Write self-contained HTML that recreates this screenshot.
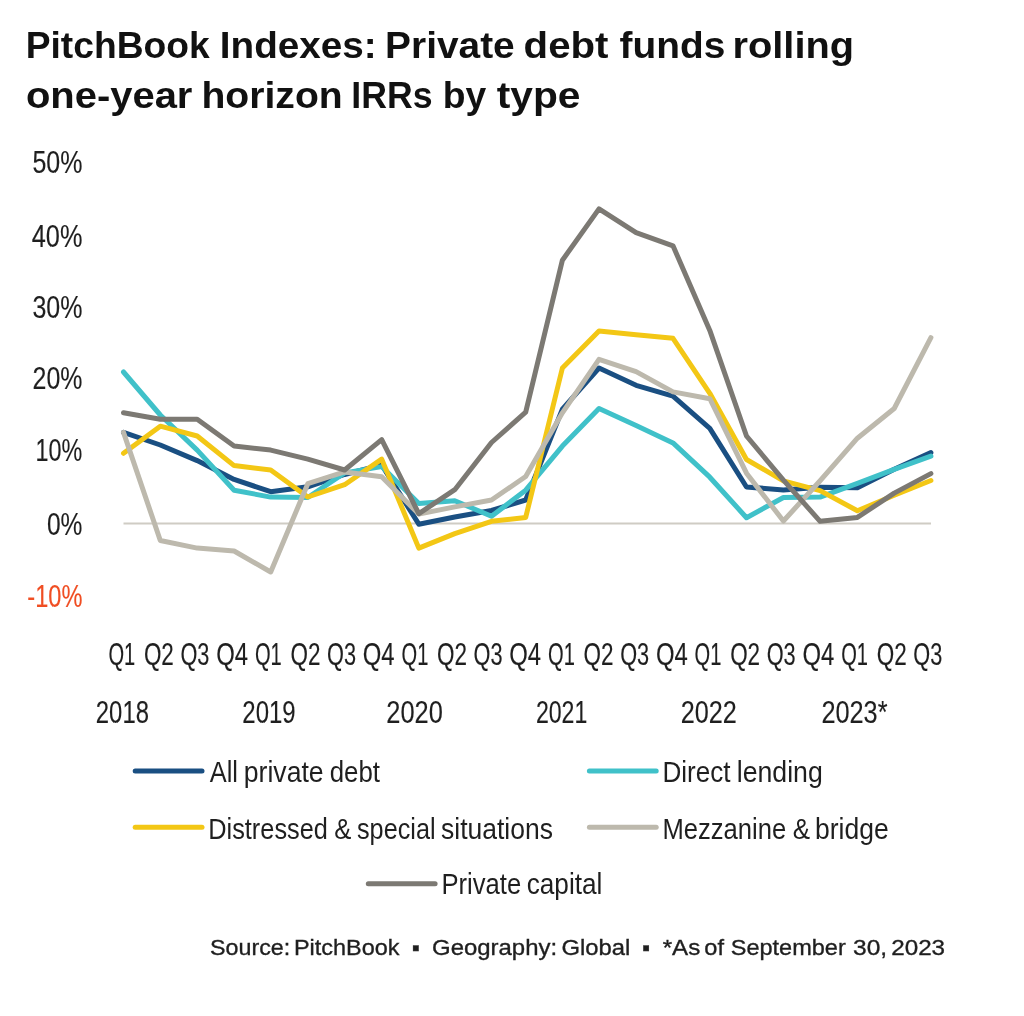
<!DOCTYPE html>
<html lang="en">
<head>
<meta charset="utf-8">
<title>PitchBook Indexes: Private debt funds rolling one-year horizon IRRs by type</title>
<style>
html,body{margin:0;padding:0;background:#fff;}
body{width:1024px;height:1016px;overflow:hidden;}
svg{display:block;will-change:transform;}
text{font-family:"Liberation Sans", Arial, Helvetica, sans-serif;fill:#1f1f1f;}
.t{font-weight:bold;font-size:37.5px;fill:#111;}
.a{font-size:31px;stroke:#1f1f1f;stroke-width:0.15;}
.l{font-size:30px;}
.f{font-size:22.3px;fill:#1f1f1f;stroke:#1f1f1f;stroke-width:0.35;}
.ln{fill:none;stroke-linecap:round;stroke-linejoin:round;stroke-width:5;}
</style>
</head>
<body>
<svg width="1024" height="1016" viewBox="0 0 1024 1016">
<rect width="1024" height="1016" fill="#ffffff"/>
<!-- title -->
<text class="t"><tspan x="25.72" y="57.5" textLength="183.97" lengthAdjust="spacingAndGlyphs">PitchBook</tspan> <tspan x="219.82" y="57.5" textLength="156.95" lengthAdjust="spacingAndGlyphs">Indexes:</tspan> <tspan x="385.11" y="57.5" textLength="129.58" lengthAdjust="spacingAndGlyphs">Private</tspan> <tspan x="523.59" y="57.5" textLength="84.86" lengthAdjust="spacingAndGlyphs">debt</tspan> <tspan x="619.52" y="57.5" textLength="105.81" lengthAdjust="spacingAndGlyphs">funds</tspan> <tspan x="732.55" y="57.5" textLength="121.48" lengthAdjust="spacingAndGlyphs">rolling</tspan></text>
<text class="t"><tspan x="25.90" y="107.5" textLength="166.51" lengthAdjust="spacingAndGlyphs">one-year</tspan> <tspan x="201.49" y="107.5" textLength="141.20" lengthAdjust="spacingAndGlyphs">horizon</tspan> <tspan x="351.32" y="107.5" textLength="81.28" lengthAdjust="spacingAndGlyphs">IRRs</tspan> <tspan x="442.72" y="107.5" textLength="43.45" lengthAdjust="spacingAndGlyphs">by</tspan> <tspan x="496.76" y="107.5" textLength="83.72" lengthAdjust="spacingAndGlyphs">type</tspan></text>
<!-- y axis -->
<text class="a" x="32.39" y="172.9" textLength="50.05" lengthAdjust="spacingAndGlyphs">50%</text>
<text class="a" x="31.79" y="247.2" textLength="50.67" lengthAdjust="spacingAndGlyphs">40%</text>
<text class="a" x="32.39" y="317.5" textLength="50.05" lengthAdjust="spacingAndGlyphs">30%</text>
<text class="a" x="32.59" y="389.3" textLength="49.85" lengthAdjust="spacingAndGlyphs">20%</text>
<text class="a" x="35.60" y="460.9" textLength="46.79" lengthAdjust="spacingAndGlyphs">10%</text>
<text class="a" x="46.91" y="535.0" textLength="35.53" lengthAdjust="spacingAndGlyphs">0%</text>
<text class="a" x="27.36" y="606.8" textLength="55.10" lengthAdjust="spacingAndGlyphs" style="fill:#f04e23;stroke:#f04e23">-10%</text>
<line x1="123.5" y1="523.5" x2="931" y2="523.5" stroke="#cfccc4" stroke-width="2"/>
<!-- series -->
<path class="ln" stroke="#1a4f82" d="M123.5,432.4 L160.3,445.0 L197.2,460.6 L234.1,479.4 L270.7,491.7 L307.8,486.8 L344.6,474.5 L381.7,464.9 L418.8,524.2 L454.8,517.0 L491.5,510.5 L525.7,500.0 L562.4,409.2 L599.0,368.0 L636.1,385.3 L673.0,396.2 L709.8,428.4 L746.5,487.0 L783.4,489.9 L820.1,487.3 L857.4,487.7 L894.2,469.3 L930.9,452.6"/>
<path class="ln" stroke="#40c1c9" d="M123.5,372.0 L160.3,415.0 L197.2,450.1 L234.1,490.2 L270.7,497.1 L307.8,497.5 L344.6,472.9 L381.7,466.6 L418.8,503.5 L454.8,500.7 L491.5,516.3 L525.7,490.2 L562.4,446.1 L599.0,408.5 L636.1,425.5 L673.0,442.9 L709.8,477.2 L746.5,517.7 L783.4,497.5 L820.1,497.1 L857.4,483.4 L894.2,469.3 L930.9,456.2"/>
<path class="ln" stroke="#f3c715" d="M123.5,453.3 L160.3,426.2 L197.2,436.0 L234.1,465.6 L270.7,470.0 L307.8,497.0 L344.6,484.7 L381.7,459.1 L418.8,548.1 L454.8,533.6 L491.5,521.3 L525.7,517.4 L562.4,368.0 L599.0,331.1 L636.1,334.7 L673.0,338.3 L709.8,393.3 L746.5,459.5 L783.4,480.8 L820.1,490.6 L857.4,510.8 L894.2,495.3 L930.9,480.5"/>
<path class="ln" stroke="#bdb9ad" d="M123.5,432.4 L160.3,540.5 L197.2,548.1 L234.1,551.0 L270.7,572.0 L307.8,483.7 L344.6,471.9 L381.7,476.8 L418.8,514.1 L454.8,506.9 L491.5,500.0 L525.7,476.5 L562.4,412.8 L599.0,359.3 L636.1,371.6 L673.0,391.9 L709.8,398.7 L746.5,473.2 L783.4,521.0 L820.1,480.8 L857.4,438.2 L894.2,408.5 L930.9,337.6"/>
<path class="ln" stroke="#7c7973" d="M123.5,412.8 L160.3,419.3 L197.2,419.3 L234.1,446.1 L270.7,450.1 L307.8,459.1 L344.6,470.0 L381.7,439.6 L418.8,513.7 L454.8,489.7 L491.5,442.5 L525.7,412.1 L562.4,260.2 L599.0,208.9 L636.1,232.7 L673.0,245.8 L709.8,330.4 L746.5,436.0 L783.4,480.1 L820.1,521.3 L857.4,517.4 L894.2,493.1 L930.9,473.6"/>
<!-- x axis -->
<text class="a" x="108.38" y="664.6" textLength="26.82" lengthAdjust="spacingAndGlyphs">Q1</text>
<text class="a" x="143.91" y="664.6" textLength="29.95" lengthAdjust="spacingAndGlyphs">Q2</text>
<text class="a" x="180.45" y="664.6" textLength="29.01" lengthAdjust="spacingAndGlyphs">Q3</text>
<text class="a" x="216.20" y="664.6" textLength="31.81" lengthAdjust="spacingAndGlyphs">Q4</text>
<text class="a" x="254.94" y="664.6" textLength="26.82" lengthAdjust="spacingAndGlyphs">Q1</text>
<text class="a" x="290.47" y="664.6" textLength="29.95" lengthAdjust="spacingAndGlyphs">Q2</text>
<text class="a" x="327.01" y="664.6" textLength="29.01" lengthAdjust="spacingAndGlyphs">Q3</text>
<text class="a" x="362.76" y="664.6" textLength="31.81" lengthAdjust="spacingAndGlyphs">Q4</text>
<text class="a" x="401.50" y="664.6" textLength="26.82" lengthAdjust="spacingAndGlyphs">Q1</text>
<text class="a" x="437.03" y="664.6" textLength="29.95" lengthAdjust="spacingAndGlyphs">Q2</text>
<text class="a" x="473.57" y="664.6" textLength="29.01" lengthAdjust="spacingAndGlyphs">Q3</text>
<text class="a" x="509.32" y="664.6" textLength="31.81" lengthAdjust="spacingAndGlyphs">Q4</text>
<text class="a" x="548.06" y="664.6" textLength="26.82" lengthAdjust="spacingAndGlyphs">Q1</text>
<text class="a" x="583.59" y="664.6" textLength="29.95" lengthAdjust="spacingAndGlyphs">Q2</text>
<text class="a" x="620.13" y="664.6" textLength="29.01" lengthAdjust="spacingAndGlyphs">Q3</text>
<text class="a" x="655.88" y="664.6" textLength="31.81" lengthAdjust="spacingAndGlyphs">Q4</text>
<text class="a" x="694.62" y="664.6" textLength="26.82" lengthAdjust="spacingAndGlyphs">Q1</text>
<text class="a" x="730.15" y="664.6" textLength="29.95" lengthAdjust="spacingAndGlyphs">Q2</text>
<text class="a" x="766.69" y="664.6" textLength="29.01" lengthAdjust="spacingAndGlyphs">Q3</text>
<text class="a" x="802.44" y="664.6" textLength="31.81" lengthAdjust="spacingAndGlyphs">Q4</text>
<text class="a" x="841.18" y="664.6" textLength="26.82" lengthAdjust="spacingAndGlyphs">Q1</text>
<text class="a" x="876.71" y="664.6" textLength="29.95" lengthAdjust="spacingAndGlyphs">Q2</text>
<text class="a" x="913.25" y="664.6" textLength="29.01" lengthAdjust="spacingAndGlyphs">Q3</text>
<text class="a" x="95.85" y="723.2" textLength="53.09" lengthAdjust="spacingAndGlyphs">2018</text>
<text class="a" x="242.34" y="723.2" textLength="53.29" lengthAdjust="spacingAndGlyphs">2019</text>
<text class="a" x="386.37" y="723.2" textLength="56.42" lengthAdjust="spacingAndGlyphs">2020</text>
<text class="a" x="535.88" y="723.2" textLength="51.41" lengthAdjust="spacingAndGlyphs">2021</text>
<text class="a" x="680.78" y="723.2" textLength="56.01" lengthAdjust="spacingAndGlyphs">2022</text>
<text class="a" x="821.38" y="723.2" textLength="66.16" lengthAdjust="spacingAndGlyphs">2023*</text>
<!-- legend -->
<line class="ln" x1="135.2" y1="771" x2="202.0" y2="771" stroke="#1a4f82"/>
<line class="ln" x1="589.4" y1="771" x2="656.2" y2="771" stroke="#40c1c9"/>
<line class="ln" x1="135.2" y1="827.3" x2="202.0" y2="827.3" stroke="#f3c715"/>
<line class="ln" x1="589.4" y1="827.3" x2="656.2" y2="827.3" stroke="#bdb9ad"/>
<line class="ln" x1="368.3" y1="883.8" x2="435.1" y2="883.8" stroke="#7c7973"/>
<text class="l"><tspan x="209.70" y="782.1" textLength="28.28" lengthAdjust="spacingAndGlyphs">All</tspan> <tspan x="243.72" y="782.1" textLength="79.93" lengthAdjust="spacingAndGlyphs">private</tspan> <tspan x="329.72" y="782.1" textLength="50.30" lengthAdjust="spacingAndGlyphs">debt</tspan></text>
<text class="l"><tspan x="662.43" y="782.1" textLength="68.07" lengthAdjust="spacingAndGlyphs">Direct</tspan> <tspan x="736.72" y="782.1" textLength="86.07" lengthAdjust="spacingAndGlyphs">lending</tspan></text>
<text class="l"><tspan x="208.29" y="839.0" textLength="119.57" lengthAdjust="spacingAndGlyphs">Distressed</tspan> <tspan x="334.25" y="839.0" textLength="17.09" lengthAdjust="spacingAndGlyphs">&amp;</tspan> <tspan x="356.96" y="839.0" textLength="78.63" lengthAdjust="spacingAndGlyphs">special</tspan> <tspan x="441.02" y="839.0" textLength="111.97" lengthAdjust="spacingAndGlyphs">situations</tspan></text>
<text class="l"><tspan x="662.47" y="839.0" textLength="123.77" lengthAdjust="spacingAndGlyphs">Mezzanine</tspan> <tspan x="792.84" y="839.0" textLength="17.31" lengthAdjust="spacingAndGlyphs">&amp;</tspan> <tspan x="814.93" y="839.0" textLength="73.71" lengthAdjust="spacingAndGlyphs">bridge</tspan></text>
<text class="l"><tspan x="441.47" y="894.2" textLength="79.71" lengthAdjust="spacingAndGlyphs">Private</tspan> <tspan x="526.71" y="894.2" textLength="75.71" lengthAdjust="spacingAndGlyphs">capital</tspan></text>
<!-- footer -->
<text class="f"><tspan x="210.06" y="955.0" textLength="80.13" lengthAdjust="spacingAndGlyphs">Source:</tspan> <tspan x="293.96" y="955.0" textLength="105.49" lengthAdjust="spacingAndGlyphs">PitchBook</tspan> <tspan x="412.00" y="954.6">▪</tspan> <tspan x="432.06" y="955.0" textLength="125.00" lengthAdjust="spacingAndGlyphs">Geography:</tspan> <tspan x="561.57" y="955.0" textLength="68.78" lengthAdjust="spacingAndGlyphs">Global</tspan> <tspan x="642.30" y="954.6">▪</tspan> <tspan x="662.66" y="955.0" textLength="37.60" lengthAdjust="spacingAndGlyphs">*As</tspan> <tspan x="704.34" y="955.0" textLength="19.67" lengthAdjust="spacingAndGlyphs">of</tspan> <tspan x="730.75" y="955.0" textLength="115.00" lengthAdjust="spacingAndGlyphs">September</tspan> <tspan x="853.10" y="955.0" textLength="34.10" lengthAdjust="spacingAndGlyphs">30,</tspan> <tspan x="891.21" y="955.0" textLength="53.89" lengthAdjust="spacingAndGlyphs">2023</tspan></text>
</svg>
</body>
</html>
